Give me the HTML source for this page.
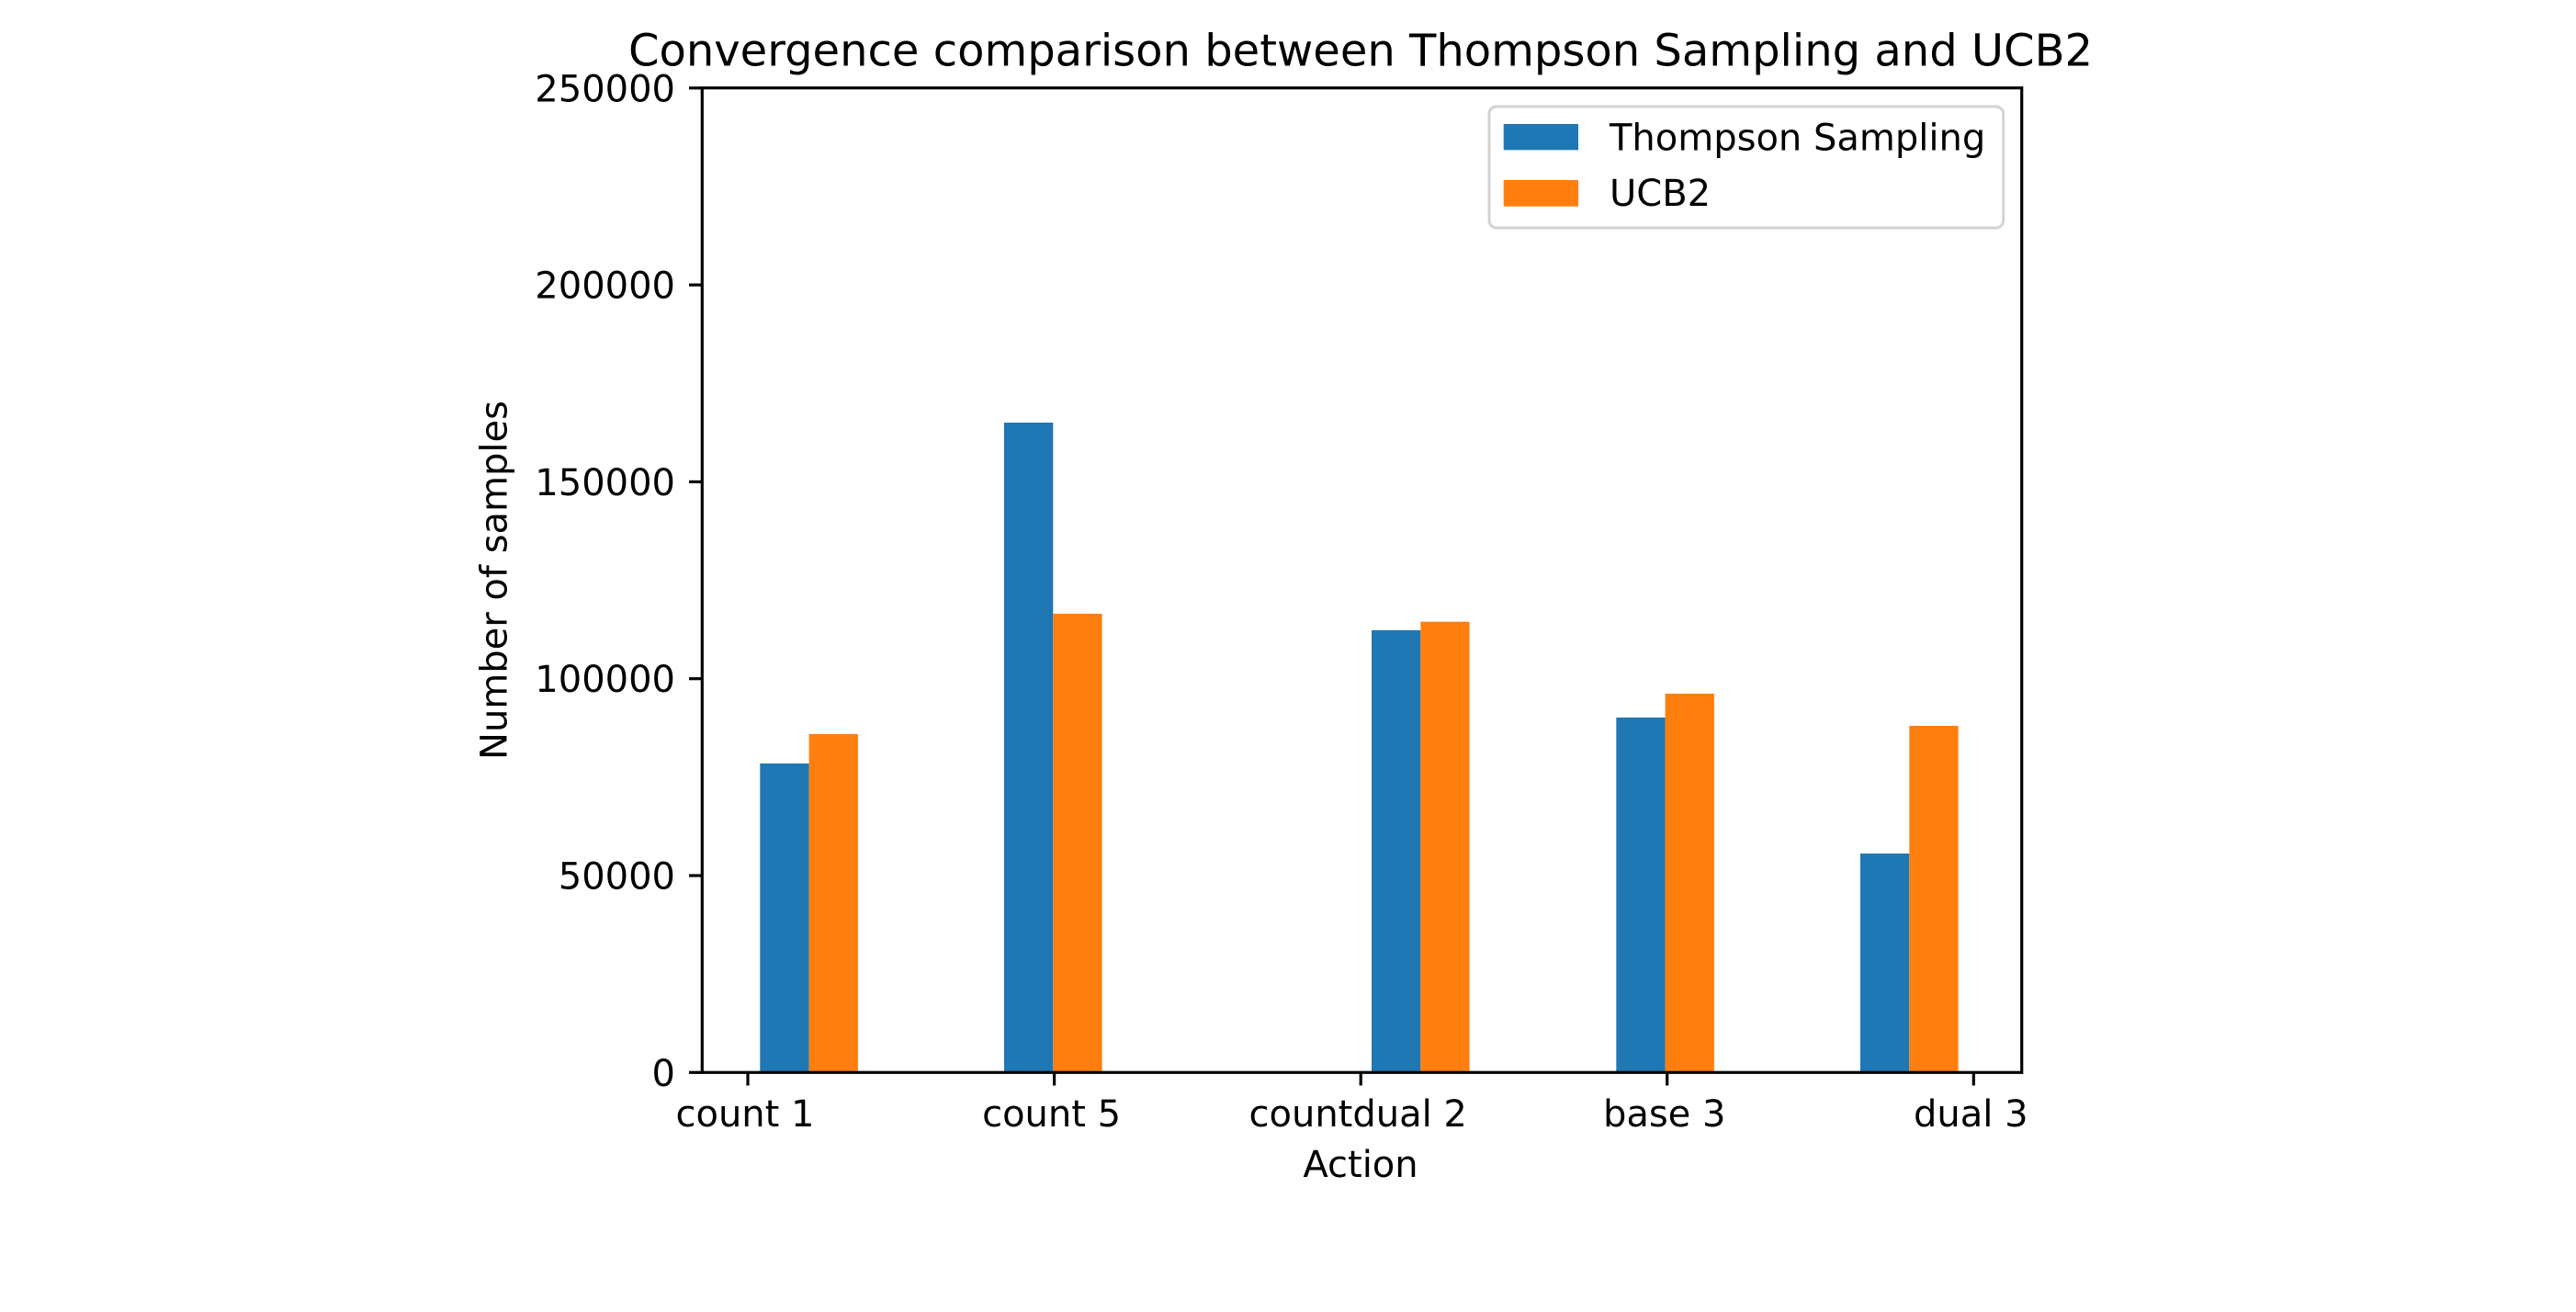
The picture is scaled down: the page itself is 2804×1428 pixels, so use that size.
<!DOCTYPE html>
<html>
<head>
<meta charset="utf-8">
<style>
  html, body { margin: 0; padding: 0; background: #ffffff; }
  svg { display: block; }
  text { font-family: "DejaVu Sans", "Liberation Sans", sans-serif; fill: #000; }
</style>
</head>
<body>
<svg width="2804" height="1428" viewBox="0 0 2804 1428" xmlns="http://www.w3.org/2000/svg">
  <rect x="0" y="0" width="2804" height="1428" fill="#ffffff"/>

  <!-- Bars -->
  <!-- count 1 -->
  <rect x="827.3" y="831" width="53.3" height="336.3" fill="#1f77b4"/>
  <rect x="880.6" y="799" width="53.3" height="368.3" fill="#ff7f0e"/>
  <!-- count 5 -->
  <rect x="1093" y="460" width="53.3" height="707.3" fill="#1f77b4"/>
  <rect x="1146.3" y="668" width="53.3" height="499.3" fill="#ff7f0e"/>
  <!-- countdual 2 -->
  <rect x="1493" y="686" width="53.3" height="481.3" fill="#1f77b4"/>
  <rect x="1546.3" y="676.7" width="53.3" height="490.6" fill="#ff7f0e"/>
  <!-- base 3 -->
  <rect x="1759.3" y="781" width="53.3" height="386.3" fill="#1f77b4"/>
  <rect x="1812.6" y="755" width="53.3" height="412.3" fill="#ff7f0e"/>
  <!-- dual 3 -->
  <rect x="2025" y="929" width="53.3" height="238.3" fill="#1f77b4"/>
  <rect x="2078.3" y="790" width="53.3" height="377.3" fill="#ff7f0e"/>

  <!-- Axes frame -->
  <rect x="764.3" y="95.7" width="1436.4" height="1071.6" fill="none" stroke="#000" stroke-width="3.2" stroke-linejoin="miter"/>

  <!-- Y ticks -->
  <g stroke="#000" stroke-width="3.2">
    <line x1="750" y1="1167.3" x2="764.3" y2="1167.3"/>
    <line x1="750" y1="953" x2="764.3" y2="953"/>
    <line x1="750" y1="738.7" x2="764.3" y2="738.7"/>
    <line x1="750" y1="524.4" x2="764.3" y2="524.4"/>
    <line x1="750" y1="310.1" x2="764.3" y2="310.1"/>
    <line x1="750" y1="95.8" x2="764.3" y2="95.8"/>
  </g>
  <g font-size="40" text-anchor="end">
    <text x="735" y="1181.8">0</text>
    <text x="735" y="967.5">50000</text>
    <text x="735" y="753.2">100000</text>
    <text x="735" y="538.9">150000</text>
    <text x="735" y="324.6">200000</text>
    <text x="735" y="110.3">250000</text>
  </g>

  <!-- X ticks -->
  <g stroke="#000" stroke-width="3.2">
    <line x1="814" y1="1167.3" x2="814" y2="1181.5"/>
    <line x1="1147.6" y1="1167.3" x2="1147.6" y2="1181.5"/>
    <line x1="1481.2" y1="1167.3" x2="1481.2" y2="1181.5"/>
    <line x1="1814.7" y1="1167.3" x2="1814.7" y2="1181.5"/>
    <line x1="2148.3" y1="1167.3" x2="2148.3" y2="1181.5"/>
  </g>
  <g font-size="40" text-anchor="middle">
    <text x="811" y="1226">count 1</text>
    <text x="1144.6" y="1226">count 5</text>
    <text x="1478.2" y="1226">countdual 2</text>
    <text x="1811.7" y="1226">base 3</text>
    <text x="2145.3" y="1226">dual 3</text>
  </g>

  <!-- Axis labels -->
  <text x="1481" y="1281" font-size="40" text-anchor="middle">Action</text>
  <text x="0" y="0" font-size="40" text-anchor="middle" transform="translate(551.5,631.5) rotate(-90)">Number of samples</text>

  <!-- Title -->
  <text x="1481" y="71.7" font-size="48" text-anchor="middle">Convergence comparison between Thompson Sampling and UCB2</text>

  <!-- Legend -->
  <rect x="1621" y="116" width="559.7" height="132" rx="8" ry="8" fill="#ffffff" stroke="#d3d3d3" stroke-width="3"/>
  <rect x="1636.7" y="135" width="81.3" height="28.3" fill="#1f77b4"/>
  <rect x="1636.7" y="196" width="81.3" height="28.7" fill="#ff7f0e"/>
  <text x="1752" y="163.3" font-size="40">Thompson Sampling</text>
  <text x="1752" y="224" font-size="40">UCB2</text>
</svg>
</body>
</html>
